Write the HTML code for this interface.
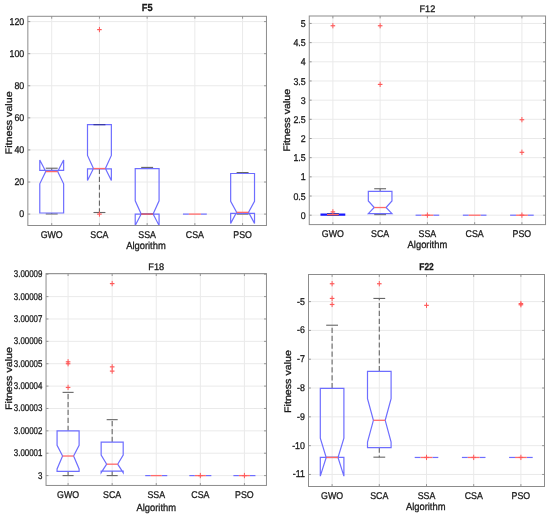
<!DOCTYPE html>
<html><head><meta charset="utf-8"><title>Boxplots</title>
<style>
html,body{margin:0;padding:0;background:#fff;}
body{width:550px;height:514px;overflow:hidden;}
svg{display:block;text-rendering:geometricPrecision;}
</style></head>
<body>
<svg width="550" height="514" viewBox="0 0 550 514">
<rect width="550" height="514" fill="#fff"/>
<g>
<g font-family='"Liberation Sans", Arial, Helvetica, sans-serif' fill="#1a1a1a" stroke="#1a1a1a" stroke-width="0.3">
<line x1="51.71" y1="16.3" x2="51.71" y2="225.5" stroke="#eaeaea" stroke-width="1"/>
<line x1="99.43" y1="16.3" x2="99.43" y2="225.5" stroke="#eaeaea" stroke-width="1"/>
<line x1="147.15" y1="16.3" x2="147.15" y2="225.5" stroke="#eaeaea" stroke-width="1"/>
<line x1="194.87" y1="16.3" x2="194.87" y2="225.5" stroke="#eaeaea" stroke-width="1"/>
<line x1="242.59" y1="16.3" x2="242.59" y2="225.5" stroke="#eaeaea" stroke-width="1"/>
<line x1="27.85" y1="214.1" x2="266.45" y2="214.1" stroke="#eaeaea" stroke-width="1"/>
<line x1="27.85" y1="182.02" x2="266.45" y2="182.02" stroke="#eaeaea" stroke-width="1"/>
<line x1="27.85" y1="149.93" x2="266.45" y2="149.93" stroke="#eaeaea" stroke-width="1"/>
<line x1="27.85" y1="117.85" x2="266.45" y2="117.85" stroke="#eaeaea" stroke-width="1"/>
<line x1="27.85" y1="85.76" x2="266.45" y2="85.76" stroke="#eaeaea" stroke-width="1"/>
<line x1="27.85" y1="53.68" x2="266.45" y2="53.68" stroke="#eaeaea" stroke-width="1"/>
<line x1="27.85" y1="21.6" x2="266.45" y2="21.6" stroke="#eaeaea" stroke-width="1"/>
<line x1="332.88" y1="16" x2="332.88" y2="224.6" stroke="#eaeaea" stroke-width="1"/>
<line x1="380.14" y1="16" x2="380.14" y2="224.6" stroke="#eaeaea" stroke-width="1"/>
<line x1="427.4" y1="16" x2="427.4" y2="224.6" stroke="#eaeaea" stroke-width="1"/>
<line x1="474.66" y1="16" x2="474.66" y2="224.6" stroke="#eaeaea" stroke-width="1"/>
<line x1="521.92" y1="16" x2="521.92" y2="224.6" stroke="#eaeaea" stroke-width="1"/>
<line x1="309.25" y1="215.2" x2="545.55" y2="215.2" stroke="#eaeaea" stroke-width="1"/>
<line x1="309.25" y1="196.02" x2="545.55" y2="196.02" stroke="#eaeaea" stroke-width="1"/>
<line x1="309.25" y1="176.85" x2="545.55" y2="176.85" stroke="#eaeaea" stroke-width="1"/>
<line x1="309.25" y1="157.67" x2="545.55" y2="157.67" stroke="#eaeaea" stroke-width="1"/>
<line x1="309.25" y1="138.5" x2="545.55" y2="138.5" stroke="#eaeaea" stroke-width="1"/>
<line x1="309.25" y1="119.32" x2="545.55" y2="119.32" stroke="#eaeaea" stroke-width="1"/>
<line x1="309.25" y1="100.15" x2="545.55" y2="100.15" stroke="#eaeaea" stroke-width="1"/>
<line x1="309.25" y1="80.97" x2="545.55" y2="80.97" stroke="#eaeaea" stroke-width="1"/>
<line x1="309.25" y1="61.8" x2="545.55" y2="61.8" stroke="#eaeaea" stroke-width="1"/>
<line x1="309.25" y1="42.62" x2="545.55" y2="42.62" stroke="#eaeaea" stroke-width="1"/>
<line x1="309.25" y1="23.45" x2="545.55" y2="23.45" stroke="#eaeaea" stroke-width="1"/>
<line x1="68.09" y1="273.6" x2="68.09" y2="485.45" stroke="#eaeaea" stroke-width="1"/>
<line x1="112.17" y1="273.6" x2="112.17" y2="485.45" stroke="#eaeaea" stroke-width="1"/>
<line x1="156.25" y1="273.6" x2="156.25" y2="485.45" stroke="#eaeaea" stroke-width="1"/>
<line x1="200.33" y1="273.6" x2="200.33" y2="485.45" stroke="#eaeaea" stroke-width="1"/>
<line x1="244.41" y1="273.6" x2="244.41" y2="485.45" stroke="#eaeaea" stroke-width="1"/>
<line x1="46.05" y1="475.6" x2="266.45" y2="475.6" stroke="#eaeaea" stroke-width="1"/>
<line x1="46.05" y1="453.23" x2="266.45" y2="453.23" stroke="#eaeaea" stroke-width="1"/>
<line x1="46.05" y1="430.85" x2="266.45" y2="430.85" stroke="#eaeaea" stroke-width="1"/>
<line x1="46.05" y1="408.48" x2="266.45" y2="408.48" stroke="#eaeaea" stroke-width="1"/>
<line x1="46.05" y1="386.1" x2="266.45" y2="386.1" stroke="#eaeaea" stroke-width="1"/>
<line x1="46.05" y1="363.73" x2="266.45" y2="363.73" stroke="#eaeaea" stroke-width="1"/>
<line x1="46.05" y1="341.35" x2="266.45" y2="341.35" stroke="#eaeaea" stroke-width="1"/>
<line x1="46.05" y1="318.98" x2="266.45" y2="318.98" stroke="#eaeaea" stroke-width="1"/>
<line x1="46.05" y1="296.6" x2="266.45" y2="296.6" stroke="#eaeaea" stroke-width="1"/>
<line x1="46.05" y1="274.23" x2="266.45" y2="274.23" stroke="#eaeaea" stroke-width="1"/>
<line x1="332.1" y1="274.5" x2="332.1" y2="486.5" stroke="#eaeaea" stroke-width="1"/>
<line x1="379.3" y1="274.5" x2="379.3" y2="486.5" stroke="#eaeaea" stroke-width="1"/>
<line x1="426.5" y1="274.5" x2="426.5" y2="486.5" stroke="#eaeaea" stroke-width="1"/>
<line x1="473.7" y1="274.5" x2="473.7" y2="486.5" stroke="#eaeaea" stroke-width="1"/>
<line x1="520.9" y1="274.5" x2="520.9" y2="486.5" stroke="#eaeaea" stroke-width="1"/>
<line x1="308.5" y1="474.46" x2="544.5" y2="474.46" stroke="#eaeaea" stroke-width="1"/>
<line x1="308.5" y1="445.65" x2="544.5" y2="445.65" stroke="#eaeaea" stroke-width="1"/>
<line x1="308.5" y1="416.84" x2="544.5" y2="416.84" stroke="#eaeaea" stroke-width="1"/>
<line x1="308.5" y1="388.03" x2="544.5" y2="388.03" stroke="#eaeaea" stroke-width="1"/>
<line x1="308.5" y1="359.22" x2="544.5" y2="359.22" stroke="#eaeaea" stroke-width="1"/>
<line x1="308.5" y1="330.41" x2="544.5" y2="330.41" stroke="#eaeaea" stroke-width="1"/>
<line x1="308.5" y1="301.6" x2="544.5" y2="301.6" stroke="#eaeaea" stroke-width="1"/>
<line x1="51.71" y1="170.47" x2="51.71" y2="168.22" stroke="#666666" stroke-width="1.1" stroke-dasharray="5.2 2.7"/>
<line x1="51.71" y1="212.98" x2="51.71" y2="213.94" stroke="#666666" stroke-width="1.1" stroke-dasharray="5.2 2.7"/>
<line x1="45.75" y1="168.22" x2="57.67" y2="168.22" stroke="#666666" stroke-width="1.1"/>
<line x1="45.75" y1="213.94" x2="57.67" y2="213.94" stroke="#666666" stroke-width="1.1"/>
<polygon points="39.78,212.98 39.78,183.78 45.75,171.59 39.78,160.04 39.78,170.47 63.64,170.47 63.64,160.04 57.67,171.59 63.64,183.78 63.64,212.98" fill="none" stroke="#6e6eff" stroke-width="1.2" stroke-linejoin="miter"/>
<line x1="45.75" y1="171.59" x2="57.67" y2="171.59" stroke="#ff6a6a" stroke-width="1.3"/>
<line x1="99.43" y1="168.86" x2="99.43" y2="212.5" stroke="#666666" stroke-width="1.1" stroke-dasharray="5.2 2.7"/>
<line x1="93.47" y1="124.59" x2="105.4" y2="124.59" stroke="#666666" stroke-width="1.1"/>
<line x1="93.47" y1="212.5" x2="105.4" y2="212.5" stroke="#666666" stroke-width="1.1"/>
<polygon points="87.5,168.86 87.5,180.57 93.47,168.54 87.5,155.39 87.5,124.59 111.36,124.59 111.36,155.39 105.4,168.54 111.36,180.57 111.36,168.86" fill="none" stroke="#6e6eff" stroke-width="1.2" stroke-linejoin="miter"/>
<line x1="93.47" y1="124.59" x2="105.4" y2="124.59" stroke="#3a3aa8" stroke-width="1.2"/>
<line x1="93.47" y1="168.54" x2="105.4" y2="168.54" stroke="#ff6a6a" stroke-width="1.3"/>
<line x1="97.13" y1="29.62" x2="101.73" y2="29.62" stroke="#ff5a5a" stroke-width="1.2"/>
<line x1="99.43" y1="26.92" x2="99.43" y2="32.22" stroke="#ff5a5a" stroke-width="1"/>
<line x1="97.13" y1="214.1" x2="101.73" y2="214.1" stroke="#ff5a5a" stroke-width="1.2"/>
<line x1="99.43" y1="211.4" x2="99.43" y2="216.7" stroke="#ff5a5a" stroke-width="1"/>
<line x1="147.15" y1="168.54" x2="147.15" y2="167.42" stroke="#666666" stroke-width="1.1" stroke-dasharray="5.2 2.7"/>
<line x1="141.19" y1="167.42" x2="153.12" y2="167.42" stroke="#666666" stroke-width="1.1"/>
<line x1="141.19" y1="214.1" x2="153.12" y2="214.1" stroke="#666666" stroke-width="1.1"/>
<polygon points="135.22,214.1 135.22,225.5 141.19,214.1 135.22,200.79 135.22,168.54 159.08,168.54 159.08,200.79 153.12,214.1 159.08,225.5 159.08,214.1" fill="none" stroke="#6e6eff" stroke-width="1.2" stroke-linejoin="miter"/>
<line x1="141.19" y1="214.1" x2="153.12" y2="214.1" stroke="#3a3aa8" stroke-width="1.2"/>
<line x1="141.19" y1="214.1" x2="153.12" y2="214.1" stroke="#ff6a6a" stroke-width="1.3"/>
<line x1="182.94" y1="214.1" x2="188.9" y2="214.1" stroke="#6e6eff" stroke-width="1.2"/>
<line x1="200.83" y1="214.1" x2="206.8" y2="214.1" stroke="#6e6eff" stroke-width="1.2"/>
<line x1="188.9" y1="214.1" x2="200.83" y2="214.1" stroke="#ff6a6a" stroke-width="1.3"/>
<line x1="242.59" y1="173.51" x2="242.59" y2="172.55" stroke="#666666" stroke-width="1.1" stroke-dasharray="5.2 2.7"/>
<line x1="242.59" y1="213.3" x2="242.59" y2="214.1" stroke="#666666" stroke-width="1.1" stroke-dasharray="5.2 2.7"/>
<line x1="236.62" y1="172.55" x2="248.56" y2="172.55" stroke="#666666" stroke-width="1.1"/>
<line x1="236.62" y1="214.1" x2="248.56" y2="214.1" stroke="#666666" stroke-width="1.1"/>
<polygon points="230.66,213.3 230.66,223.4 236.62,212.34 230.66,201.27 230.66,173.51 254.52,173.51 254.52,201.27 248.56,212.34 254.52,223.4 254.52,213.3" fill="none" stroke="#6e6eff" stroke-width="1.2" stroke-linejoin="miter"/>
<line x1="236.62" y1="212.34" x2="248.56" y2="212.34" stroke="#ff6a6a" stroke-width="1.3"/>
<line x1="326.97" y1="213.86" x2="338.79" y2="213.86" stroke="#666666" stroke-width="1.1"/>
<line x1="326.97" y1="215.2" x2="338.79" y2="215.2" stroke="#666666" stroke-width="1.1"/>
<polygon points="321.06,215.05 321.06,215.01 326.97,214.62 321.06,214.24 321.06,214.05 344.69,214.05 344.69,214.24 338.79,214.62 344.69,215.01 344.69,215.05" fill="none" stroke="#1818ff" stroke-width="1.2" stroke-linejoin="miter"/>
<line x1="326.97" y1="213.86" x2="338.79" y2="213.86" stroke="#3a3aa8" stroke-width="1.2"/>
<line x1="326.97" y1="215.2" x2="338.79" y2="215.2" stroke="#3a3aa8" stroke-width="1.2"/>
<line x1="326.97" y1="214.62" x2="338.79" y2="214.62" stroke="#ff6a6a" stroke-width="1.3"/>
<line x1="330.58" y1="25.75" x2="335.18" y2="25.75" stroke="#ff5a5a" stroke-width="1.2"/>
<line x1="332.88" y1="23.05" x2="332.88" y2="28.35" stroke="#ff5a5a" stroke-width="1"/>
<line x1="330.58" y1="211.9" x2="335.18" y2="211.9" stroke="#ff5a5a" stroke-width="1.2"/>
<line x1="332.88" y1="209.2" x2="332.88" y2="214.5" stroke="#ff5a5a" stroke-width="1"/>
<line x1="380.14" y1="191.42" x2="380.14" y2="188.74" stroke="#666666" stroke-width="1.1" stroke-dasharray="5.2 2.7"/>
<line x1="380.14" y1="213.67" x2="380.14" y2="214.62" stroke="#666666" stroke-width="1.1" stroke-dasharray="5.2 2.7"/>
<line x1="374.23" y1="188.74" x2="386.05" y2="188.74" stroke="#666666" stroke-width="1.1"/>
<line x1="374.23" y1="214.62" x2="386.05" y2="214.62" stroke="#666666" stroke-width="1.1"/>
<polygon points="368.32,213.67 368.32,213.67 374.23,207.53 368.32,201.01 368.32,191.42 391.95,191.42 391.95,201.01 386.05,207.53 391.95,213.67 391.95,213.67" fill="none" stroke="#6e6eff" stroke-width="1.2" stroke-linejoin="miter"/>
<line x1="374.23" y1="207.53" x2="386.05" y2="207.53" stroke="#ff6a6a" stroke-width="1.3"/>
<line x1="377.84" y1="25.75" x2="382.44" y2="25.75" stroke="#ff5a5a" stroke-width="1.2"/>
<line x1="380.14" y1="23.05" x2="380.14" y2="28.35" stroke="#ff5a5a" stroke-width="1"/>
<line x1="377.84" y1="84.43" x2="382.44" y2="84.43" stroke="#ff5a5a" stroke-width="1.2"/>
<line x1="380.14" y1="81.73" x2="380.14" y2="87.03" stroke="#ff5a5a" stroke-width="1"/>
<line x1="415.58" y1="215.2" x2="421.49" y2="215.2" stroke="#6e6eff" stroke-width="1.2"/>
<line x1="433.31" y1="215.2" x2="439.21" y2="215.2" stroke="#6e6eff" stroke-width="1.2"/>
<line x1="421.49" y1="215.2" x2="433.31" y2="215.2" stroke="#ff6a6a" stroke-width="1.3"/>
<line x1="425.1" y1="215.2" x2="429.7" y2="215.2" stroke="#ff5a5a" stroke-width="1.2"/>
<line x1="427.4" y1="212.5" x2="427.4" y2="217.8" stroke="#ff5a5a" stroke-width="1"/>
<line x1="462.84" y1="215.2" x2="468.75" y2="215.2" stroke="#6e6eff" stroke-width="1.2"/>
<line x1="480.57" y1="215.2" x2="486.47" y2="215.2" stroke="#6e6eff" stroke-width="1.2"/>
<line x1="468.75" y1="215.2" x2="480.57" y2="215.2" stroke="#ff6a6a" stroke-width="1.3"/>
<line x1="510.1" y1="215.2" x2="516.01" y2="215.2" stroke="#6e6eff" stroke-width="1.2"/>
<line x1="527.83" y1="215.2" x2="533.73" y2="215.2" stroke="#6e6eff" stroke-width="1.2"/>
<line x1="516.01" y1="215.2" x2="527.83" y2="215.2" stroke="#ff6a6a" stroke-width="1.3"/>
<line x1="519.62" y1="119.71" x2="524.22" y2="119.71" stroke="#ff5a5a" stroke-width="1.2"/>
<line x1="521.92" y1="117.01" x2="521.92" y2="122.31" stroke="#ff5a5a" stroke-width="1"/>
<line x1="519.62" y1="152.31" x2="524.22" y2="152.31" stroke="#ff5a5a" stroke-width="1.2"/>
<line x1="521.92" y1="149.61" x2="521.92" y2="154.91" stroke="#ff5a5a" stroke-width="1"/>
<line x1="519.62" y1="215.2" x2="524.22" y2="215.2" stroke="#ff5a5a" stroke-width="1.2"/>
<line x1="521.92" y1="212.5" x2="521.92" y2="217.8" stroke="#ff5a5a" stroke-width="1"/>
<line x1="68.09" y1="430.85" x2="68.09" y2="392.37" stroke="#666666" stroke-width="1.1" stroke-dasharray="5.2 2.7"/>
<line x1="68.09" y1="471.35" x2="68.09" y2="475.6" stroke="#666666" stroke-width="1.1" stroke-dasharray="5.2 2.7"/>
<line x1="62.58" y1="392.37" x2="73.6" y2="392.37" stroke="#666666" stroke-width="1.1"/>
<line x1="62.58" y1="475.6" x2="73.6" y2="475.6" stroke="#666666" stroke-width="1.1"/>
<polygon points="57.07,471.35 57.07,468.89 62.58,456.02 57.07,445.39 57.07,430.85 79.11,430.85 79.11,445.39 73.6,456.02 79.11,468.89 79.11,471.35" fill="none" stroke="#6e6eff" stroke-width="1.2" stroke-linejoin="miter"/>
<line x1="62.58" y1="456.02" x2="73.6" y2="456.02" stroke="#ff6a6a" stroke-width="1.3"/>
<line x1="65.79" y1="361.82" x2="70.39" y2="361.82" stroke="#ff5a5a" stroke-width="1.2"/>
<line x1="68.09" y1="359.12" x2="68.09" y2="364.42" stroke="#ff5a5a" stroke-width="1"/>
<line x1="65.79" y1="363.73" x2="70.39" y2="363.73" stroke="#ff5a5a" stroke-width="1.2"/>
<line x1="68.09" y1="361.03" x2="68.09" y2="366.33" stroke="#ff5a5a" stroke-width="1"/>
<line x1="65.79" y1="387.44" x2="70.39" y2="387.44" stroke="#ff5a5a" stroke-width="1.2"/>
<line x1="68.09" y1="384.74" x2="68.09" y2="390.04" stroke="#ff5a5a" stroke-width="1"/>
<line x1="112.17" y1="442.04" x2="112.17" y2="419.66" stroke="#666666" stroke-width="1.1" stroke-dasharray="5.2 2.7"/>
<line x1="112.17" y1="471.12" x2="112.17" y2="475.6" stroke="#666666" stroke-width="1.1" stroke-dasharray="5.2 2.7"/>
<line x1="106.66" y1="419.66" x2="117.68" y2="419.66" stroke="#666666" stroke-width="1.1"/>
<line x1="106.66" y1="475.6" x2="117.68" y2="475.6" stroke="#666666" stroke-width="1.1"/>
<polygon points="101.15,471.12 101.15,472.69 106.66,464.19 101.15,455.02 101.15,442.04 123.19,442.04 123.19,455.02 117.68,464.19 123.19,472.69 123.19,471.12" fill="none" stroke="#6e6eff" stroke-width="1.2" stroke-linejoin="miter"/>
<line x1="106.66" y1="464.19" x2="117.68" y2="464.19" stroke="#ff6a6a" stroke-width="1.3"/>
<line x1="109.87" y1="283.62" x2="114.47" y2="283.62" stroke="#ff5a5a" stroke-width="1.2"/>
<line x1="112.17" y1="280.92" x2="112.17" y2="286.22" stroke="#ff5a5a" stroke-width="1"/>
<line x1="109.87" y1="366.86" x2="114.47" y2="366.86" stroke="#ff5a5a" stroke-width="1.2"/>
<line x1="112.17" y1="364.16" x2="112.17" y2="369.46" stroke="#ff5a5a" stroke-width="1"/>
<line x1="109.87" y1="371.11" x2="114.47" y2="371.11" stroke="#ff5a5a" stroke-width="1.2"/>
<line x1="112.17" y1="368.41" x2="112.17" y2="373.71" stroke="#ff5a5a" stroke-width="1"/>
<line x1="145.23" y1="475.6" x2="150.74" y2="475.6" stroke="#6e6eff" stroke-width="1.2"/>
<line x1="161.76" y1="475.6" x2="167.27" y2="475.6" stroke="#6e6eff" stroke-width="1.2"/>
<line x1="150.74" y1="475.6" x2="161.76" y2="475.6" stroke="#ff6a6a" stroke-width="1.3"/>
<line x1="189.31" y1="475.6" x2="194.82" y2="475.6" stroke="#6e6eff" stroke-width="1.2"/>
<line x1="205.84" y1="475.6" x2="211.35" y2="475.6" stroke="#6e6eff" stroke-width="1.2"/>
<line x1="194.82" y1="475.6" x2="205.84" y2="475.6" stroke="#ff6a6a" stroke-width="1.3"/>
<line x1="198.03" y1="475.6" x2="202.63" y2="475.6" stroke="#ff5a5a" stroke-width="1.2"/>
<line x1="200.33" y1="472.9" x2="200.33" y2="478.2" stroke="#ff5a5a" stroke-width="1"/>
<line x1="233.39" y1="475.6" x2="238.9" y2="475.6" stroke="#6e6eff" stroke-width="1.2"/>
<line x1="249.92" y1="475.6" x2="255.43" y2="475.6" stroke="#6e6eff" stroke-width="1.2"/>
<line x1="238.9" y1="475.6" x2="249.92" y2="475.6" stroke="#ff6a6a" stroke-width="1.3"/>
<line x1="242.11" y1="475.6" x2="246.71" y2="475.6" stroke="#ff5a5a" stroke-width="1.2"/>
<line x1="244.41" y1="472.9" x2="244.41" y2="478.2" stroke="#ff5a5a" stroke-width="1"/>
<line x1="332.1" y1="388.32" x2="332.1" y2="325.22" stroke="#666666" stroke-width="1.1" stroke-dasharray="5.2 2.7"/>
<line x1="326.2" y1="325.22" x2="338" y2="325.22" stroke="#666666" stroke-width="1.1"/>
<line x1="326.2" y1="457.46" x2="338" y2="457.46" stroke="#666666" stroke-width="1.1"/>
<polygon points="320.3,457.46 320.3,476.19 326.2,457.46 320.3,438.16 320.3,388.32 343.9,388.32 343.9,438.16 338,457.46 343.9,476.19 343.9,457.46" fill="none" stroke="#6e6eff" stroke-width="1.2" stroke-linejoin="miter"/>
<line x1="326.2" y1="457.46" x2="338" y2="457.46" stroke="#3a3aa8" stroke-width="1.2"/>
<line x1="326.2" y1="457.46" x2="338" y2="457.46" stroke="#ff6a6a" stroke-width="1.3"/>
<line x1="329.8" y1="283.74" x2="334.4" y2="283.74" stroke="#ff5a5a" stroke-width="1.2"/>
<line x1="332.1" y1="281.04" x2="332.1" y2="286.34" stroke="#ff5a5a" stroke-width="1"/>
<line x1="329.8" y1="298.43" x2="334.4" y2="298.43" stroke="#ff5a5a" stroke-width="1.2"/>
<line x1="332.1" y1="295.73" x2="332.1" y2="301.03" stroke="#ff5a5a" stroke-width="1"/>
<line x1="329.8" y1="304.48" x2="334.4" y2="304.48" stroke="#ff5a5a" stroke-width="1.2"/>
<line x1="332.1" y1="301.78" x2="332.1" y2="307.08" stroke="#ff5a5a" stroke-width="1"/>
<line x1="379.3" y1="371.32" x2="379.3" y2="298.43" stroke="#666666" stroke-width="1.1" stroke-dasharray="5.2 2.7"/>
<line x1="379.3" y1="447.67" x2="379.3" y2="457.17" stroke="#666666" stroke-width="1.1" stroke-dasharray="5.2 2.7"/>
<line x1="373.4" y1="298.43" x2="385.2" y2="298.43" stroke="#666666" stroke-width="1.1"/>
<line x1="373.4" y1="457.17" x2="385.2" y2="457.17" stroke="#666666" stroke-width="1.1"/>
<polygon points="367.5,447.67 367.5,442.19 373.4,420.3 367.5,398.69 367.5,371.32 391.1,371.32 391.1,398.69 385.2,420.3 391.1,442.19 391.1,447.67" fill="none" stroke="#6e6eff" stroke-width="1.2" stroke-linejoin="miter"/>
<line x1="373.4" y1="420.3" x2="385.2" y2="420.3" stroke="#ff6a6a" stroke-width="1.3"/>
<line x1="377" y1="283.74" x2="381.6" y2="283.74" stroke="#ff5a5a" stroke-width="1.2"/>
<line x1="379.3" y1="281.04" x2="379.3" y2="286.34" stroke="#ff5a5a" stroke-width="1"/>
<line x1="414.7" y1="457.46" x2="420.6" y2="457.46" stroke="#6e6eff" stroke-width="1.2"/>
<line x1="432.4" y1="457.46" x2="438.3" y2="457.46" stroke="#6e6eff" stroke-width="1.2"/>
<line x1="420.6" y1="457.46" x2="432.4" y2="457.46" stroke="#ff6a6a" stroke-width="1.3"/>
<line x1="424.2" y1="457.46" x2="428.8" y2="457.46" stroke="#ff5a5a" stroke-width="1.2"/>
<line x1="426.5" y1="454.76" x2="426.5" y2="460.06" stroke="#ff5a5a" stroke-width="1"/>
<line x1="424.2" y1="305.35" x2="428.8" y2="305.35" stroke="#ff5a5a" stroke-width="1.2"/>
<line x1="426.5" y1="302.65" x2="426.5" y2="307.95" stroke="#ff5a5a" stroke-width="1"/>
<line x1="461.9" y1="457.46" x2="467.8" y2="457.46" stroke="#6e6eff" stroke-width="1.2"/>
<line x1="479.6" y1="457.46" x2="485.5" y2="457.46" stroke="#6e6eff" stroke-width="1.2"/>
<line x1="467.8" y1="457.46" x2="479.6" y2="457.46" stroke="#ff6a6a" stroke-width="1.3"/>
<line x1="471.4" y1="457.46" x2="476" y2="457.46" stroke="#ff5a5a" stroke-width="1.2"/>
<line x1="473.7" y1="454.76" x2="473.7" y2="460.06" stroke="#ff5a5a" stroke-width="1"/>
<line x1="509.1" y1="457.46" x2="515" y2="457.46" stroke="#6e6eff" stroke-width="1.2"/>
<line x1="526.8" y1="457.46" x2="532.7" y2="457.46" stroke="#6e6eff" stroke-width="1.2"/>
<line x1="515" y1="457.46" x2="526.8" y2="457.46" stroke="#ff6a6a" stroke-width="1.3"/>
<line x1="518.6" y1="457.46" x2="523.2" y2="457.46" stroke="#ff5a5a" stroke-width="1.2"/>
<line x1="520.9" y1="454.76" x2="520.9" y2="460.06" stroke="#ff5a5a" stroke-width="1"/>
<line x1="518.6" y1="303.62" x2="523.2" y2="303.62" stroke="#ff5a5a" stroke-width="1.2"/>
<line x1="520.9" y1="300.92" x2="520.9" y2="306.22" stroke="#ff5a5a" stroke-width="1"/>
<line x1="518.6" y1="304.77" x2="523.2" y2="304.77" stroke="#ff5a5a" stroke-width="1.2"/>
<line x1="520.9" y1="302.07" x2="520.9" y2="307.37" stroke="#ff5a5a" stroke-width="1"/>
<line x1="51.71" y1="225.5" x2="51.71" y2="223.1" stroke="#8c8c8c" stroke-width="0.9"/>
<line x1="51.71" y1="16.3" x2="51.71" y2="18.7" stroke="#8c8c8c" stroke-width="0.9"/>
<line x1="99.43" y1="225.5" x2="99.43" y2="223.1" stroke="#8c8c8c" stroke-width="0.9"/>
<line x1="99.43" y1="16.3" x2="99.43" y2="18.7" stroke="#8c8c8c" stroke-width="0.9"/>
<line x1="147.15" y1="225.5" x2="147.15" y2="223.1" stroke="#8c8c8c" stroke-width="0.9"/>
<line x1="147.15" y1="16.3" x2="147.15" y2="18.7" stroke="#8c8c8c" stroke-width="0.9"/>
<line x1="194.87" y1="225.5" x2="194.87" y2="223.1" stroke="#8c8c8c" stroke-width="0.9"/>
<line x1="194.87" y1="16.3" x2="194.87" y2="18.7" stroke="#8c8c8c" stroke-width="0.9"/>
<line x1="242.59" y1="225.5" x2="242.59" y2="223.1" stroke="#8c8c8c" stroke-width="0.9"/>
<line x1="242.59" y1="16.3" x2="242.59" y2="18.7" stroke="#8c8c8c" stroke-width="0.9"/>
<line x1="27.85" y1="214.1" x2="30.25" y2="214.1" stroke="#8c8c8c" stroke-width="0.9"/>
<line x1="266.45" y1="214.1" x2="264.05" y2="214.1" stroke="#8c8c8c" stroke-width="0.9"/>
<line x1="27.85" y1="182.02" x2="30.25" y2="182.02" stroke="#8c8c8c" stroke-width="0.9"/>
<line x1="266.45" y1="182.02" x2="264.05" y2="182.02" stroke="#8c8c8c" stroke-width="0.9"/>
<line x1="27.85" y1="149.93" x2="30.25" y2="149.93" stroke="#8c8c8c" stroke-width="0.9"/>
<line x1="266.45" y1="149.93" x2="264.05" y2="149.93" stroke="#8c8c8c" stroke-width="0.9"/>
<line x1="27.85" y1="117.85" x2="30.25" y2="117.85" stroke="#8c8c8c" stroke-width="0.9"/>
<line x1="266.45" y1="117.85" x2="264.05" y2="117.85" stroke="#8c8c8c" stroke-width="0.9"/>
<line x1="27.85" y1="85.76" x2="30.25" y2="85.76" stroke="#8c8c8c" stroke-width="0.9"/>
<line x1="266.45" y1="85.76" x2="264.05" y2="85.76" stroke="#8c8c8c" stroke-width="0.9"/>
<line x1="27.85" y1="53.68" x2="30.25" y2="53.68" stroke="#8c8c8c" stroke-width="0.9"/>
<line x1="266.45" y1="53.68" x2="264.05" y2="53.68" stroke="#8c8c8c" stroke-width="0.9"/>
<line x1="27.85" y1="21.6" x2="30.25" y2="21.6" stroke="#8c8c8c" stroke-width="0.9"/>
<line x1="266.45" y1="21.6" x2="264.05" y2="21.6" stroke="#8c8c8c" stroke-width="0.9"/>
<rect x="27.85" y="16.3" width="238.6" height="209.2" fill="none" stroke="#8c8c8c" stroke-width="1"/>
<text transform="translate(24.25 217.1) scale(0.900 1.000)" font-size="9.8" text-anchor="end" font-weight="normal">0</text>
<text transform="translate(24.25 185.02) scale(0.900 1.000)" font-size="9.8" text-anchor="end" font-weight="normal">20</text>
<text transform="translate(24.25 152.93) scale(0.900 1.000)" font-size="9.8" text-anchor="end" font-weight="normal">40</text>
<text transform="translate(24.25 120.85) scale(0.900 1.000)" font-size="9.8" text-anchor="end" font-weight="normal">60</text>
<text transform="translate(24.25 88.76) scale(0.900 1.000)" font-size="9.8" text-anchor="end" font-weight="normal">80</text>
<text transform="translate(24.25 56.68) scale(0.900 1.000)" font-size="9.8" text-anchor="end" font-weight="normal">100</text>
<text transform="translate(24.25 24.6) scale(0.900 1.000)" font-size="9.8" text-anchor="end" font-weight="normal">120</text>
<text transform="translate(51.71 237.8) scale(0.900 1.000)" font-size="9.8" text-anchor="middle" font-weight="normal">GWO</text>
<text transform="translate(99.43 237.8) scale(0.900 1.000)" font-size="9.8" text-anchor="middle" font-weight="normal">SCA</text>
<text transform="translate(147.15 237.8) scale(0.900 1.000)" font-size="9.8" text-anchor="middle" font-weight="normal">SSA</text>
<text transform="translate(194.87 237.8) scale(0.900 1.000)" font-size="9.8" text-anchor="middle" font-weight="normal">CSA</text>
<text transform="translate(242.59 237.8) scale(0.900 1.000)" font-size="9.8" text-anchor="middle" font-weight="normal">PSO</text>
<text transform="translate(145.95 249.2) scale(0.920 1.000)" font-size="10.2" text-anchor="middle" font-weight="normal">Algorithm</text>
<text transform="translate(147.15 11.2) scale(0.910 1.000)" font-size="10.2" text-anchor="middle" font-weight="bold">F5</text>
<line x1="332.88" y1="224.6" x2="332.88" y2="222.2" stroke="#8c8c8c" stroke-width="0.9"/>
<line x1="332.88" y1="16" x2="332.88" y2="18.4" stroke="#8c8c8c" stroke-width="0.9"/>
<line x1="380.14" y1="224.6" x2="380.14" y2="222.2" stroke="#8c8c8c" stroke-width="0.9"/>
<line x1="380.14" y1="16" x2="380.14" y2="18.4" stroke="#8c8c8c" stroke-width="0.9"/>
<line x1="427.4" y1="224.6" x2="427.4" y2="222.2" stroke="#8c8c8c" stroke-width="0.9"/>
<line x1="427.4" y1="16" x2="427.4" y2="18.4" stroke="#8c8c8c" stroke-width="0.9"/>
<line x1="474.66" y1="224.6" x2="474.66" y2="222.2" stroke="#8c8c8c" stroke-width="0.9"/>
<line x1="474.66" y1="16" x2="474.66" y2="18.4" stroke="#8c8c8c" stroke-width="0.9"/>
<line x1="521.92" y1="224.6" x2="521.92" y2="222.2" stroke="#8c8c8c" stroke-width="0.9"/>
<line x1="521.92" y1="16" x2="521.92" y2="18.4" stroke="#8c8c8c" stroke-width="0.9"/>
<line x1="309.25" y1="215.2" x2="311.65" y2="215.2" stroke="#8c8c8c" stroke-width="0.9"/>
<line x1="545.55" y1="215.2" x2="543.15" y2="215.2" stroke="#8c8c8c" stroke-width="0.9"/>
<line x1="309.25" y1="196.02" x2="311.65" y2="196.02" stroke="#8c8c8c" stroke-width="0.9"/>
<line x1="545.55" y1="196.02" x2="543.15" y2="196.02" stroke="#8c8c8c" stroke-width="0.9"/>
<line x1="309.25" y1="176.85" x2="311.65" y2="176.85" stroke="#8c8c8c" stroke-width="0.9"/>
<line x1="545.55" y1="176.85" x2="543.15" y2="176.85" stroke="#8c8c8c" stroke-width="0.9"/>
<line x1="309.25" y1="157.67" x2="311.65" y2="157.67" stroke="#8c8c8c" stroke-width="0.9"/>
<line x1="545.55" y1="157.67" x2="543.15" y2="157.67" stroke="#8c8c8c" stroke-width="0.9"/>
<line x1="309.25" y1="138.5" x2="311.65" y2="138.5" stroke="#8c8c8c" stroke-width="0.9"/>
<line x1="545.55" y1="138.5" x2="543.15" y2="138.5" stroke="#8c8c8c" stroke-width="0.9"/>
<line x1="309.25" y1="119.32" x2="311.65" y2="119.32" stroke="#8c8c8c" stroke-width="0.9"/>
<line x1="545.55" y1="119.32" x2="543.15" y2="119.32" stroke="#8c8c8c" stroke-width="0.9"/>
<line x1="309.25" y1="100.15" x2="311.65" y2="100.15" stroke="#8c8c8c" stroke-width="0.9"/>
<line x1="545.55" y1="100.15" x2="543.15" y2="100.15" stroke="#8c8c8c" stroke-width="0.9"/>
<line x1="309.25" y1="80.97" x2="311.65" y2="80.97" stroke="#8c8c8c" stroke-width="0.9"/>
<line x1="545.55" y1="80.97" x2="543.15" y2="80.97" stroke="#8c8c8c" stroke-width="0.9"/>
<line x1="309.25" y1="61.8" x2="311.65" y2="61.8" stroke="#8c8c8c" stroke-width="0.9"/>
<line x1="545.55" y1="61.8" x2="543.15" y2="61.8" stroke="#8c8c8c" stroke-width="0.9"/>
<line x1="309.25" y1="42.62" x2="311.65" y2="42.62" stroke="#8c8c8c" stroke-width="0.9"/>
<line x1="545.55" y1="42.62" x2="543.15" y2="42.62" stroke="#8c8c8c" stroke-width="0.9"/>
<line x1="309.25" y1="23.45" x2="311.65" y2="23.45" stroke="#8c8c8c" stroke-width="0.9"/>
<line x1="545.55" y1="23.45" x2="543.15" y2="23.45" stroke="#8c8c8c" stroke-width="0.9"/>
<rect x="309.25" y="16" width="236.3" height="208.6" fill="none" stroke="#8c8c8c" stroke-width="1"/>
<text transform="translate(305.65 218.8) scale(0.900 1.000)" font-size="9.8" text-anchor="end" font-weight="normal">0</text>
<text transform="translate(305.65 199.62) scale(0.900 1.000)" font-size="9.8" text-anchor="end" font-weight="normal">0.5</text>
<text transform="translate(305.65 180.45) scale(0.900 1.000)" font-size="9.8" text-anchor="end" font-weight="normal">1</text>
<text transform="translate(305.65 161.27) scale(0.900 1.000)" font-size="9.8" text-anchor="end" font-weight="normal">1.5</text>
<text transform="translate(305.65 142.1) scale(0.900 1.000)" font-size="9.8" text-anchor="end" font-weight="normal">2</text>
<text transform="translate(305.65 122.92) scale(0.900 1.000)" font-size="9.8" text-anchor="end" font-weight="normal">2.5</text>
<text transform="translate(305.65 103.75) scale(0.900 1.000)" font-size="9.8" text-anchor="end" font-weight="normal">3</text>
<text transform="translate(305.65 84.57) scale(0.900 1.000)" font-size="9.8" text-anchor="end" font-weight="normal">3.5</text>
<text transform="translate(305.65 65.4) scale(0.900 1.000)" font-size="9.8" text-anchor="end" font-weight="normal">4</text>
<text transform="translate(305.65 46.22) scale(0.900 1.000)" font-size="9.8" text-anchor="end" font-weight="normal">4.5</text>
<text transform="translate(305.65 27.05) scale(0.900 1.000)" font-size="9.8" text-anchor="end" font-weight="normal">5</text>
<text transform="translate(332.88 236.9) scale(0.900 1.000)" font-size="9.8" text-anchor="middle" font-weight="normal">GWO</text>
<text transform="translate(380.14 236.9) scale(0.900 1.000)" font-size="9.8" text-anchor="middle" font-weight="normal">SCA</text>
<text transform="translate(427.4 236.9) scale(0.900 1.000)" font-size="9.8" text-anchor="middle" font-weight="normal">SSA</text>
<text transform="translate(474.66 236.9) scale(0.900 1.000)" font-size="9.8" text-anchor="middle" font-weight="normal">CSA</text>
<text transform="translate(521.92 236.9) scale(0.900 1.000)" font-size="9.8" text-anchor="middle" font-weight="normal">PSO</text>
<text transform="translate(427.4 248.3) scale(0.920 1.000)" font-size="10.2" text-anchor="middle" font-weight="normal">Algorithm</text>
<text transform="translate(427.4 12) scale(0.950 1.000)" font-size="9.6" text-anchor="middle" font-weight="normal">F12</text>
<line x1="68.09" y1="485.45" x2="68.09" y2="483.05" stroke="#8c8c8c" stroke-width="0.9"/>
<line x1="68.09" y1="273.6" x2="68.09" y2="276" stroke="#8c8c8c" stroke-width="0.9"/>
<line x1="112.17" y1="485.45" x2="112.17" y2="483.05" stroke="#8c8c8c" stroke-width="0.9"/>
<line x1="112.17" y1="273.6" x2="112.17" y2="276" stroke="#8c8c8c" stroke-width="0.9"/>
<line x1="156.25" y1="485.45" x2="156.25" y2="483.05" stroke="#8c8c8c" stroke-width="0.9"/>
<line x1="156.25" y1="273.6" x2="156.25" y2="276" stroke="#8c8c8c" stroke-width="0.9"/>
<line x1="200.33" y1="485.45" x2="200.33" y2="483.05" stroke="#8c8c8c" stroke-width="0.9"/>
<line x1="200.33" y1="273.6" x2="200.33" y2="276" stroke="#8c8c8c" stroke-width="0.9"/>
<line x1="244.41" y1="485.45" x2="244.41" y2="483.05" stroke="#8c8c8c" stroke-width="0.9"/>
<line x1="244.41" y1="273.6" x2="244.41" y2="276" stroke="#8c8c8c" stroke-width="0.9"/>
<line x1="46.05" y1="475.6" x2="48.45" y2="475.6" stroke="#8c8c8c" stroke-width="0.9"/>
<line x1="266.45" y1="475.6" x2="264.05" y2="475.6" stroke="#8c8c8c" stroke-width="0.9"/>
<line x1="46.05" y1="453.23" x2="48.45" y2="453.23" stroke="#8c8c8c" stroke-width="0.9"/>
<line x1="266.45" y1="453.23" x2="264.05" y2="453.23" stroke="#8c8c8c" stroke-width="0.9"/>
<line x1="46.05" y1="430.85" x2="48.45" y2="430.85" stroke="#8c8c8c" stroke-width="0.9"/>
<line x1="266.45" y1="430.85" x2="264.05" y2="430.85" stroke="#8c8c8c" stroke-width="0.9"/>
<line x1="46.05" y1="408.48" x2="48.45" y2="408.48" stroke="#8c8c8c" stroke-width="0.9"/>
<line x1="266.45" y1="408.48" x2="264.05" y2="408.48" stroke="#8c8c8c" stroke-width="0.9"/>
<line x1="46.05" y1="386.1" x2="48.45" y2="386.1" stroke="#8c8c8c" stroke-width="0.9"/>
<line x1="266.45" y1="386.1" x2="264.05" y2="386.1" stroke="#8c8c8c" stroke-width="0.9"/>
<line x1="46.05" y1="363.73" x2="48.45" y2="363.73" stroke="#8c8c8c" stroke-width="0.9"/>
<line x1="266.45" y1="363.73" x2="264.05" y2="363.73" stroke="#8c8c8c" stroke-width="0.9"/>
<line x1="46.05" y1="341.35" x2="48.45" y2="341.35" stroke="#8c8c8c" stroke-width="0.9"/>
<line x1="266.45" y1="341.35" x2="264.05" y2="341.35" stroke="#8c8c8c" stroke-width="0.9"/>
<line x1="46.05" y1="318.98" x2="48.45" y2="318.98" stroke="#8c8c8c" stroke-width="0.9"/>
<line x1="266.45" y1="318.98" x2="264.05" y2="318.98" stroke="#8c8c8c" stroke-width="0.9"/>
<line x1="46.05" y1="296.6" x2="48.45" y2="296.6" stroke="#8c8c8c" stroke-width="0.9"/>
<line x1="266.45" y1="296.6" x2="264.05" y2="296.6" stroke="#8c8c8c" stroke-width="0.9"/>
<line x1="46.05" y1="274.23" x2="48.45" y2="274.23" stroke="#8c8c8c" stroke-width="0.9"/>
<line x1="266.45" y1="274.23" x2="264.05" y2="274.23" stroke="#8c8c8c" stroke-width="0.9"/>
<rect x="46.05" y="273.6" width="220.4" height="211.85" fill="none" stroke="#8c8c8c" stroke-width="1"/>
<text transform="translate(42.45 478.6) scale(0.810 1.000)" font-size="9.8" text-anchor="end" font-weight="normal">3</text>
<text transform="translate(42.45 456.23) scale(0.810 1.000)" font-size="9.8" text-anchor="end" font-weight="normal">3.00001</text>
<text transform="translate(42.45 433.85) scale(0.810 1.000)" font-size="9.8" text-anchor="end" font-weight="normal">3.00002</text>
<text transform="translate(42.45 411.48) scale(0.810 1.000)" font-size="9.8" text-anchor="end" font-weight="normal">3.00003</text>
<text transform="translate(42.45 389.1) scale(0.810 1.000)" font-size="9.8" text-anchor="end" font-weight="normal">3.00004</text>
<text transform="translate(42.45 366.73) scale(0.810 1.000)" font-size="9.8" text-anchor="end" font-weight="normal">3.00005</text>
<text transform="translate(42.45 344.35) scale(0.810 1.000)" font-size="9.8" text-anchor="end" font-weight="normal">3.00006</text>
<text transform="translate(42.45 321.98) scale(0.810 1.000)" font-size="9.8" text-anchor="end" font-weight="normal">3.00007</text>
<text transform="translate(42.45 299.6) scale(0.810 1.000)" font-size="9.8" text-anchor="end" font-weight="normal">3.00008</text>
<text transform="translate(42.45 277.23) scale(0.810 1.000)" font-size="9.8" text-anchor="end" font-weight="normal">3.00009</text>
<text transform="translate(68.09 497.75) scale(0.900 1.000)" font-size="9.8" text-anchor="middle" font-weight="normal">GWO</text>
<text transform="translate(112.17 497.75) scale(0.900 1.000)" font-size="9.8" text-anchor="middle" font-weight="normal">SCA</text>
<text transform="translate(156.25 497.75) scale(0.900 1.000)" font-size="9.8" text-anchor="middle" font-weight="normal">SSA</text>
<text transform="translate(200.33 497.75) scale(0.900 1.000)" font-size="9.8" text-anchor="middle" font-weight="normal">CSA</text>
<text transform="translate(244.41 497.75) scale(0.900 1.000)" font-size="9.8" text-anchor="middle" font-weight="normal">PSO</text>
<text transform="translate(156.25 510.95) scale(0.920 1.000)" font-size="10.2" text-anchor="middle" font-weight="normal">Algorithm</text>
<text transform="translate(156.25 269.5) scale(0.960 1.000)" font-size="9.6" text-anchor="middle" font-weight="normal">F18</text>
<line x1="332.1" y1="486.5" x2="332.1" y2="484.1" stroke="#8c8c8c" stroke-width="0.9"/>
<line x1="332.1" y1="274.5" x2="332.1" y2="276.9" stroke="#8c8c8c" stroke-width="0.9"/>
<line x1="379.3" y1="486.5" x2="379.3" y2="484.1" stroke="#8c8c8c" stroke-width="0.9"/>
<line x1="379.3" y1="274.5" x2="379.3" y2="276.9" stroke="#8c8c8c" stroke-width="0.9"/>
<line x1="426.5" y1="486.5" x2="426.5" y2="484.1" stroke="#8c8c8c" stroke-width="0.9"/>
<line x1="426.5" y1="274.5" x2="426.5" y2="276.9" stroke="#8c8c8c" stroke-width="0.9"/>
<line x1="473.7" y1="486.5" x2="473.7" y2="484.1" stroke="#8c8c8c" stroke-width="0.9"/>
<line x1="473.7" y1="274.5" x2="473.7" y2="276.9" stroke="#8c8c8c" stroke-width="0.9"/>
<line x1="520.9" y1="486.5" x2="520.9" y2="484.1" stroke="#8c8c8c" stroke-width="0.9"/>
<line x1="520.9" y1="274.5" x2="520.9" y2="276.9" stroke="#8c8c8c" stroke-width="0.9"/>
<line x1="308.5" y1="474.46" x2="310.9" y2="474.46" stroke="#8c8c8c" stroke-width="0.9"/>
<line x1="544.5" y1="474.46" x2="542.1" y2="474.46" stroke="#8c8c8c" stroke-width="0.9"/>
<line x1="308.5" y1="445.65" x2="310.9" y2="445.65" stroke="#8c8c8c" stroke-width="0.9"/>
<line x1="544.5" y1="445.65" x2="542.1" y2="445.65" stroke="#8c8c8c" stroke-width="0.9"/>
<line x1="308.5" y1="416.84" x2="310.9" y2="416.84" stroke="#8c8c8c" stroke-width="0.9"/>
<line x1="544.5" y1="416.84" x2="542.1" y2="416.84" stroke="#8c8c8c" stroke-width="0.9"/>
<line x1="308.5" y1="388.03" x2="310.9" y2="388.03" stroke="#8c8c8c" stroke-width="0.9"/>
<line x1="544.5" y1="388.03" x2="542.1" y2="388.03" stroke="#8c8c8c" stroke-width="0.9"/>
<line x1="308.5" y1="359.22" x2="310.9" y2="359.22" stroke="#8c8c8c" stroke-width="0.9"/>
<line x1="544.5" y1="359.22" x2="542.1" y2="359.22" stroke="#8c8c8c" stroke-width="0.9"/>
<line x1="308.5" y1="330.41" x2="310.9" y2="330.41" stroke="#8c8c8c" stroke-width="0.9"/>
<line x1="544.5" y1="330.41" x2="542.1" y2="330.41" stroke="#8c8c8c" stroke-width="0.9"/>
<line x1="308.5" y1="301.6" x2="310.9" y2="301.6" stroke="#8c8c8c" stroke-width="0.9"/>
<line x1="544.5" y1="301.6" x2="542.1" y2="301.6" stroke="#8c8c8c" stroke-width="0.9"/>
<rect x="308.5" y="274.5" width="236" height="212" fill="none" stroke="#8c8c8c" stroke-width="1"/>
<text transform="translate(304.9 477.46) scale(0.900 1.000)" font-size="9.8" text-anchor="end" font-weight="normal">-11</text>
<text transform="translate(304.9 448.65) scale(0.900 1.000)" font-size="9.8" text-anchor="end" font-weight="normal">-10</text>
<text transform="translate(304.9 419.84) scale(0.900 1.000)" font-size="9.8" text-anchor="end" font-weight="normal">-9</text>
<text transform="translate(304.9 391.03) scale(0.900 1.000)" font-size="9.8" text-anchor="end" font-weight="normal">-8</text>
<text transform="translate(304.9 362.22) scale(0.900 1.000)" font-size="9.8" text-anchor="end" font-weight="normal">-7</text>
<text transform="translate(304.9 333.41) scale(0.900 1.000)" font-size="9.8" text-anchor="end" font-weight="normal">-6</text>
<text transform="translate(304.9 304.6) scale(0.900 1.000)" font-size="9.8" text-anchor="end" font-weight="normal">-5</text>
<text transform="translate(332.1 498.8) scale(0.900 1.000)" font-size="9.8" text-anchor="middle" font-weight="normal">GWO</text>
<text transform="translate(379.3 498.8) scale(0.900 1.000)" font-size="9.8" text-anchor="middle" font-weight="normal">SCA</text>
<text transform="translate(426.5 498.8) scale(0.900 1.000)" font-size="9.8" text-anchor="middle" font-weight="normal">SSA</text>
<text transform="translate(473.7 498.8) scale(0.900 1.000)" font-size="9.8" text-anchor="middle" font-weight="normal">CSA</text>
<text transform="translate(520.9 498.8) scale(0.900 1.000)" font-size="9.8" text-anchor="middle" font-weight="normal">PSO</text>
<text transform="translate(425.7 509.5) scale(0.920 1.000)" font-size="10.2" text-anchor="middle" font-weight="normal">Algorithm</text>
<text transform="translate(426.5 270.3) scale(0.840 1.000)" font-size="10" text-anchor="middle" font-weight="bold">F22</text>
<text transform="translate(11.8 122.9) scale(1.000 1.125) rotate(-90)" font-size="9.5" text-anchor="middle" font-weight="normal">Fitness value</text>
<text transform="translate(289.6 120.3) scale(1.000 1.125) rotate(-90)" font-size="9.5" text-anchor="middle" font-weight="normal">Fitness value</text>
<text transform="translate(11.9 378.5) scale(1.000 1.125) rotate(-90)" font-size="9.5" text-anchor="middle" font-weight="normal">Fitness value</text>
<text transform="translate(290.8 381.5) scale(1.000 1.125) rotate(-90)" font-size="9.5" text-anchor="middle" font-weight="normal">Fitness value</text>
</g></g>
</svg>
</body></html>
